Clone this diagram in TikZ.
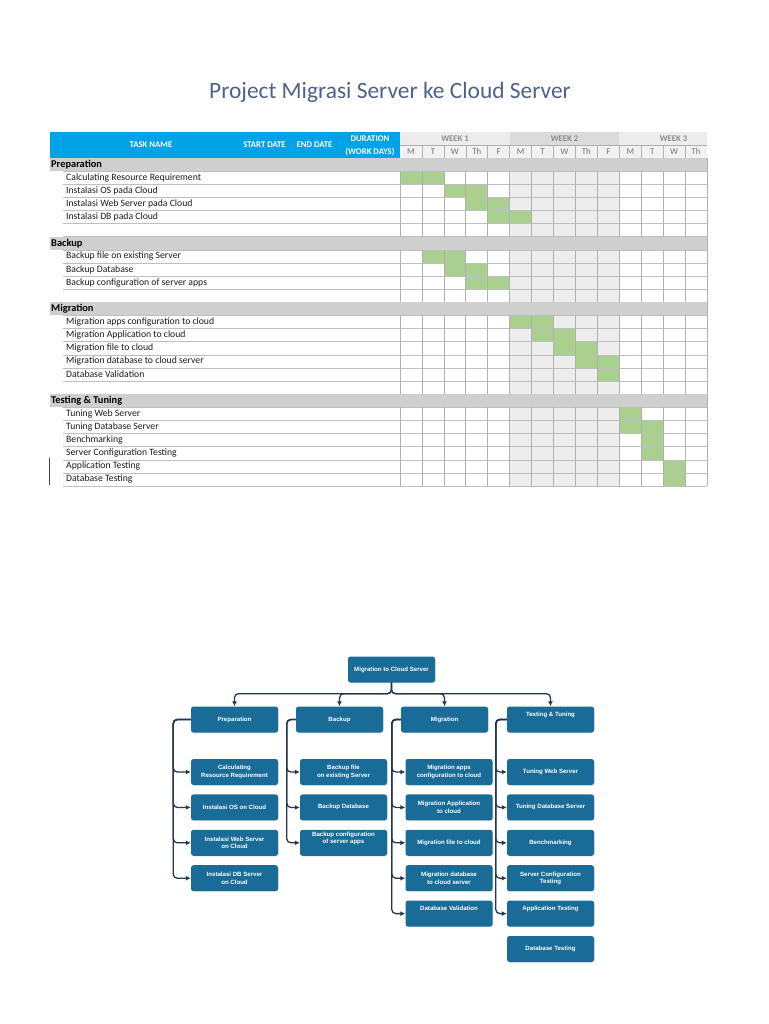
\documentclass[tikz,border=0pt]{standalone}
\usepackage{fontspec}
\setmainfont{Carlito}
\newfontfamily\wbsfont{Liberation Sans}
\usetikzlibrary{positioning,arrows.meta,shadows}
\definecolor{titleblue}{HTML}{4E6289}
\definecolor{hdrblue}{HTML}{00A3E8}
\definecolor{bandgrey}{HTML}{CFCFCF}
\definecolor{weekgrey}{HTML}{ECECEC}
\definecolor{gridgrey}{HTML}{B0B0B0}
\definecolor{barfill}{HTML}{A9D08E}
\definecolor{boxblue}{HTML}{1A6C98}
\definecolor{linenavy}{HTML}{24374F}
\tikzset{
  task/.style={anchor=west,inner sep=0pt,text=black!90,font=\fontsize{9.7}{11}\selectfont},
  band/.style={anchor=west,inner sep=0pt,font=\fontsize{10.4}{12}\selectfont\bfseries},
  hdr/.style={inner sep=0pt,text=white,font=\fontsize{8.7}{9}\selectfont\bfseries},
  wk/.style={inner sep=0pt,text=black!45,font=\fontsize{8.7}{9}\selectfont\bfseries},
  day/.style={inner sep=0pt,text=black!55,font=\fontsize{8.8}{9}\selectfont},
  box/.style={fill=boxblue,rounded corners=2.5pt,minimum width=87pt,minimum height=26pt,
    inner sep=1pt,align=center,text=white,font=\wbsfont\fontsize{6.1}{7.3}\selectfont\bfseries,
    drop shadow={opacity=0.2,shadow xshift=0.8pt,shadow yshift=-0.8pt}},
  raised/.style={text depth=10pt},
  conn/.style={draw=linenavy,line width=1.3pt,rounded corners=4pt,-{Latex[length=5pt,width=5pt]}}
}

\begin{document}
\begin{tikzpicture}[x=1pt,y=-1pt]
    \useasboundingbox (0,0) rectangle (768,1024);
    \def\cw{21.93}
    \def\rh{13.12}

    \node[text=titleblue,font=\fontsize{23.4}{28}\selectfont] (title) at (390,92) {Project Migrasi Server ke Cloud Server};

    % table header
    \fill[hdrblue] (50,132) rectangle (400,158);
    \node[hdr] (tname) at (151,145) {TASK NAME};
    \node[hdr] (sdate) at (264.5,145) {START DATE};
    \node[hdr] (edate) at (314.5,145) {END DATE};
    \node[hdr] (dur) at (370,138.5) {DURATION};
    \node[hdr] (wdays) at (370,151.5) {(WORK DAYS)};

    \fill[weekgrey] (400,132) rectangle (707,158);
    \fill[black!14] ({400+5*\cw},132) rectangle ({400+10*\cw},145);
    \fill[black!5] (400,145) rectangle (707,158);
    \foreach \w/\x in {1/455,2/564.5,3/673.5}
        \node[wk] (wk\w) at (\x,138.5) {WEEK \w};
    \foreach \d [count=\i from 0] in {M,T,W,Th,F,M,T,W,Th,F,M,T,W,Th}
        \node[day] (day\i) at ({400+(\i+0.5)*\cw},151.5) {\d};
    \foreach \i in {1,...,13}
        \draw[gridgrey,line width=0.5pt] ({400+\i*\cw},145) -- ({400+\i*\cw},158);
    \draw[gridgrey,line width=0.5pt] (400,145) -- (707,145);

    % chart body
    \fill[black!7] ({400+5*\cw},158) rectangle ({400+10*\cw},486);
    \foreach \r/\t/\g in {1/Calculating Resource Requirement/{0,1},2/Instalasi OS pada Cloud/{2,3},
        3/Instalasi Web Server pada Cloud/{3,4},4/Instalasi DB pada Cloud/{4,5},
        7/Backup file on existing Server/{1,2},8/Backup Database/{2,3},9/Backup configuration of server apps/{3,4},
        12/Migration apps configuration to cloud/{5,6},13/Migration Application to cloud/{6,7},
        14/Migration file to cloud/{7,8},15/Migration database to cloud server/{8,9},16/Database Validation/{9},
        19/Tuning Web Server/{10},20/Tuning Database Server/{10,11},21/Benchmarking/{11},
        22/Server Configuration Testing/{11},23/Application Testing/{12},24/Database Testing/{12}}{
        \node[task] (task\r) at (66,{158+(\r+0.5)*\rh}) {\t};
        \foreach \c in \g
            \fill[barfill] ({400+\c*\cw},{158+\r*\rh}) rectangle ({400+(\c+1)*\cw},{158+(\r+1)*\rh});
    }
    \foreach \r in {1,...,25}
        \draw[black!25,line width=0.5pt] (63,{158+\r*\rh}) -- (707,{158+\r*\rh});
    \foreach \i in {0,...,14}
        \draw[gridgrey,line width=0.6pt] ({400+\i*\cw},158) -- ({400+\i*\cw},486);
    \foreach \r/\b in {0/Preparation,6/Backup,11/Migration,18/Testing \& Tuning}{
        \fill[bandgrey] (50,{158+\r*\rh}) rectangle (707,{158+(\r+1)*\rh});
        \node[band] (band\r) at (51,{158+(\r+0.5)*\rh}) {\b};
    }
    \draw[black!75,line width=0.8pt] (49,458) -- (49,485);

    % breakdown
    \node[box] (root) at (391.5,669.5) {Migration to Cloud Server};
    \node[box] (prep) at (234.5,719.5) {Preparation};
    \node[box] (bkp) at (339.5,719.5) {Backup};
    \node[box] (mig) at (444.5,719.5) {Migration};
    \node[box,raised] (tst) at (550.5,719.5) {Testing \& Tuning};
    \foreach \n in {prep,bkp,mig,tst}
        \draw[conn] (root.south) -- ++(0,11) -| (\n.north);

    \node[box] (p1) at (234.5,772) {Calculating\\Resource Requirement};
    \node[box,below=9pt of p1] (p2) {Instalasi OS on Cloud};
    \node[box,below=9pt of p2] (p3) {Instalasi Web Server\\on Cloud};
    \node[box,below=9pt of p3] (p4) {Instalasi DB Server\\on Cloud};

    \node[box] (b1) at (343.5,772) {Backup file\\on existing Server};
    \node[box,below=9pt of b1] (b2) {Backup Database};
    \node[box,raised,below=9pt of b2] (b3) {Backup configuration\\of server apps};

    \node[box] (m1) at (449,772) {Migration apps\\configuration to cloud};
    \node[box,below=9pt of m1] (m2) {Migration Application\\to cloud};
    \node[box,below=9pt of m2] (m3) {Migration file to cloud};
    \node[box,below=9pt of m3] (m4) {Migration database\\to cloud server};
    \node[box,raised,below=9pt of m4] (m5) {Database Validation};

    \node[box] (s1) at (550.5,772) {Tuning Web Server};
    \node[box,below=9pt of s1] (s2) {Tuning Database Server};
    \node[box,below=9pt of s2] (s3) {Benchmarking};
    \node[box,below=9pt of s3] (s4) {Server Configuration\\Testing};
    \node[box,raised,below=9pt of s4] (s5) {Application Testing};
    \node[box,below=9pt of s5] (s6) {Database Testing};

    \foreach \c in {p1,p2,p3,p4}
        \draw[conn] (prep.west) -- ++(-17.5,0) |- (\c.west);
    \foreach \c in {b1,b2,b3}
        \draw[conn] (bkp.west) -- ++(-9,0) |- (\c.west);
    \foreach \c in {m1,m2,m3,m4,m5}
        \draw[conn] (mig.west) -- ++(-9,0) |- (\c.west);
    \foreach \c in {s1,s2,s3,s4,s5}
        \draw[conn] (tst.west) -- ++(-11,0) |- (\c.west);
\end{tikzpicture}
\end{document}
